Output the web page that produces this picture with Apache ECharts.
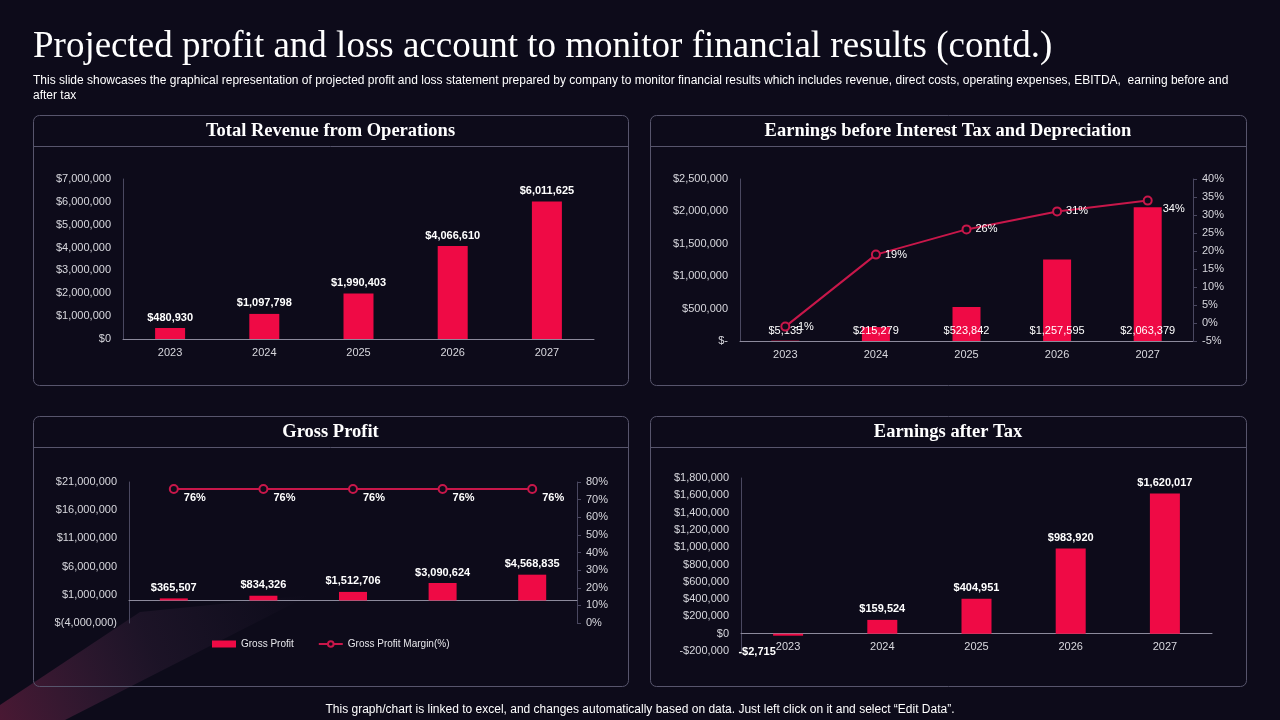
<!DOCTYPE html>
<html>
<head>
<meta charset="utf-8">
<title>Projected profit and loss account</title>
<script src="https://cdn.jsdelivr.net/npm/echarts@6.0.0/dist/echarts.min.js"></script>
<style>
  html, body { margin: 0; padding: 0; background: #0d0b1a; }
  #chart { width: 1280px; height: 720px; }
</style>
</head>
<body>
<div id="chart"></div>
<script>
const years = ['2023', '2024', '2025', '2026', '2027'];
const revenue = [480930, 1097798, 1990403, 4066610, 6011625];
const ebitda = [5135, 215279, 523842, 1257595, 2063379];
const ebitdaMargin = [-1, 19, 26, 31, 34];
const grossProfit = [365507, 834326, 1512706, 3090624, 4568835];
const grossMargin = [76, 76, 76, 76, 76];
const earningsAfterTax = [-2715, 159524, 404951, 983920, 1620017];

const BAR = '#ef0a45';
const LINE = '#c8174a';
const BG = '#0d0b1a';
const AXIS = '#8c8a9c';
const AXIS_DIM = '#4a4860';
const LABEL = '#d8d8de';
const SANS = '"Liberation Sans", Arial, sans-serif';
const SERIF = '"Liberation Serif", "Times New Roman", serif';

function money(v) {
  return '$' + Math.abs(v).toLocaleString('en-US');
}

const panels = [
  {x: 33, y: 115, w: 595, title: 'Total Revenue from Operations'},
  {x: 650, y: 115, w: 596, title: 'Earnings before Interest Tax and Depreciation'},
  {x: 33, y: 416, w: 595, title: 'Gross Profit'},
  {x: 650, y: 416, w: 596, title: 'Earnings after Tax'}
];

function txt(text, x, y, font, align, vAlign, extra) {
  return {
    type: 'text',
    silent: true,
    style: Object.assign({
      text: text, x: x, y: y, font: font, fill: '#ffffff',
      align: align, textAlign: align,
      verticalAlign: vAlign, textVerticalAlign: vAlign
    }, extra || {})
  };
}

const graphic = [
  {
    // soft light beam in the lower left corner
    type: 'polygon',
    silent: true,
    z: -10,
    shape: {points: [[0, 705], [0, 720], [65, 720], [310, 595], [140, 612]]},
    style: {
      fill: new echarts.graphic.LinearGradient(0, 1, 1, 0, [
        {offset: 0, color: 'rgba(190, 50, 100, 0.34)'},
        {offset: 0.5, color: 'rgba(140, 80, 130, 0.12)'},
        {offset: 1, color: 'rgba(120, 90, 140, 0)'}
      ])
    }
  },
  txt('Projected profit and loss account to monitor financial results (contd.)',
      33, 47, '37px ' + SERIF, 'left', 'middle'),
  txt('This slide showcases the graphical representation of projected profit and loss statement prepared by company to monitor financial results which includes revenue, direct costs, operating expenses, EBITDA,  earning before and\nafter tax',
      33, 73, '12px ' + SANS, 'left', 'top', {lineHeight: 15}),
  txt('This graph/chart is linked to excel, and changes automatically based on data. Just left click on it and select \u201cEdit Data\u201d.',
      640, 710, '12px ' + SANS, 'center', 'middle')
];

panels.forEach(p => {
  graphic.push({
    type: 'rect', silent: true,
    shape: {x: p.x + 0.5, y: p.y + 0.5, width: p.w, height: 270, r: 6},
    style: {fill: 'none', stroke: '#57556c', lineWidth: 1}
  });
  graphic.push({
    type: 'line', silent: true,
    shape: {x1: p.x, y1: p.y + 31.5, x2: p.x + p.w, y2: p.y + 31.5},
    style: {stroke: '#57556c', lineWidth: 1}
  });
  graphic.push(txt(p.title, p.x + p.w / 2, p.y + 16, 'bold 18.5px ' + SERIF, 'center', 'middle'));
});

function catAxis(gridIndex, showLabel, margin) {
  return {
    type: 'category',
    gridIndex: gridIndex,
    data: years,
    axisTick: {show: false},
    axisLine: {lineStyle: {color: AXIS}},
    axisLabel: {show: showLabel, color: LABEL, fontSize: 11, fontFamily: SANS, margin: margin}
  };
}

function valAxis(gridIndex, min, max, interval, formatter, right) {
  return {
    type: 'value',
    gridIndex: gridIndex,
    position: right ? 'right' : 'left',
    min: min,
    max: max,
    interval: interval,
    splitLine: {show: false},
    axisLine: {show: true, lineStyle: {color: AXIS_DIM}},
    axisTick: {show: !!right, length: 4, lineStyle: {color: AXIS_DIM}},
    axisLabel: {color: LABEL, fontSize: 11, fontFamily: SANS, margin: right ? 9 : 12, formatter: formatter}
  };
}

const topLabel = {
  show: true, position: 'top', distance: 5,
  color: '#ffffff', fontWeight: 'bold', fontSize: 11, fontFamily: SANS,
  formatter: p => money(p.value)
};

const marginLine = {
  type: 'line', z: 5,
  symbol: 'circle', symbolSize: 8,
  lineStyle: {color: LINE, width: 2},
  itemStyle: {color: BG, borderColor: LINE, borderWidth: 2}
};

const option = {
  backgroundColor: BG,
  animation: false,
  graphic: graphic,
  legend: {
    data: [{name: 'Gross Profit', icon: 'rect'}, {name: 'Gross Profit Margin(%)'}],
    left: 207,
    top: 634,
    itemWidth: 24,
    itemHeight: 7,
    itemGap: 24,
    textStyle: {color: '#e6e6ea', fontSize: 10, fontFamily: SANS}
  },
  grid: [
    {left: 123, top: 179, width: 471, height: 160, containLabel: false, outerBoundsMode: 'none'},
    {left: 740, top: 179, width: 453, height: 162, containLabel: false, outerBoundsMode: 'none'},
    {left: 129, top: 482, width: 448, height: 141, containLabel: false, outerBoundsMode: 'none'},
    {left: 741, top: 478, width: 471, height: 173, containLabel: false, outerBoundsMode: 'none'}
  ],
  xAxis: [catAxis(0, true, 8), catAxis(1, true, 8), catAxis(2, false, 8), catAxis(3, true, -10)],
  yAxis: [
    valAxis(0, 0, 7000000, 1000000, v => money(v)),
    valAxis(1, 0, 2500000, 500000, v => v === 0 ? '$-' : money(v)),
    valAxis(1, -5, 40, 5, '{value}%', true),
    valAxis(2, -4000000, 21000000, 1000000, v => {
      if ((v + 4000000) % 5000000 !== 0) return '';
      return v < 0 ? '$(' + Math.abs(v).toLocaleString('en-US') + ')' : money(v);
    }),
    valAxis(2, 0, 80, 10, '{value}%', true),
    valAxis(3, -200000, 1800000, 200000, v => (v < 0 ? '-' : '') + money(v))
  ],
  series: [
    {
      name: 'Revenue', type: 'bar', xAxisIndex: 0, yAxisIndex: 0,
      barWidth: 30, itemStyle: {color: BAR}, label: topLabel,
      data: revenue
    },
    {
      name: 'EBITDA', type: 'bar', xAxisIndex: 1, yAxisIndex: 1,
      barWidth: 28, itemStyle: {color: BAR},
      label: {
        show: true, position: 'insideBottom', distance: 5,
        color: '#ffffff', fontSize: 11, fontFamily: SANS,
        formatter: p => money(p.value)
      },
      data: ebitda
    },
    Object.assign({}, marginLine, {
      name: 'EBITDA Margin', xAxisIndex: 1, yAxisIndex: 2,
      label: {
        show: true, position: 'right', distance: 4,
        color: '#ffffff', fontSize: 11, fontFamily: SANS,
        formatter: p => p.value + '%'
      },
      data: ebitdaMargin.map((v, i) => i === 4 ? {value: v, label: {offset: [6, 8]}} : v)
    }),
    {
      name: 'Gross Profit', type: 'bar', xAxisIndex: 2, yAxisIndex: 3,
      barWidth: 28, itemStyle: {color: BAR}, label: topLabel,
      data: grossProfit
    },
    Object.assign({}, marginLine, {
      name: 'Gross Profit Margin(%)', xAxisIndex: 2, yAxisIndex: 4,
      label: {
        show: true, position: 'right', distance: 5, offset: [0, 9],
        color: '#ffffff', fontWeight: 'bold', fontSize: 11, fontFamily: SANS,
        formatter: p => p.value + '%'
      },
      data: grossMargin
    }),
    {
      name: 'Earnings after Tax', type: 'bar', xAxisIndex: 3, yAxisIndex: 5,
      barWidth: 30, barMinHeight: 2, itemStyle: {color: BAR},
      label: Object.assign({}, topLabel, {formatter: p => (p.value < 0 ? '-' : '') + money(p.value)}),
      data: earningsAfterTax.map(v => v < 0
        ? {value: v, label: {position: 'bottom', offset: [-31, 6]}}
        : v)
    }
  ]
};

const chart = echarts.init(document.getElementById('chart'));
chart.setOption(option);
</script>
</body>
</html>
